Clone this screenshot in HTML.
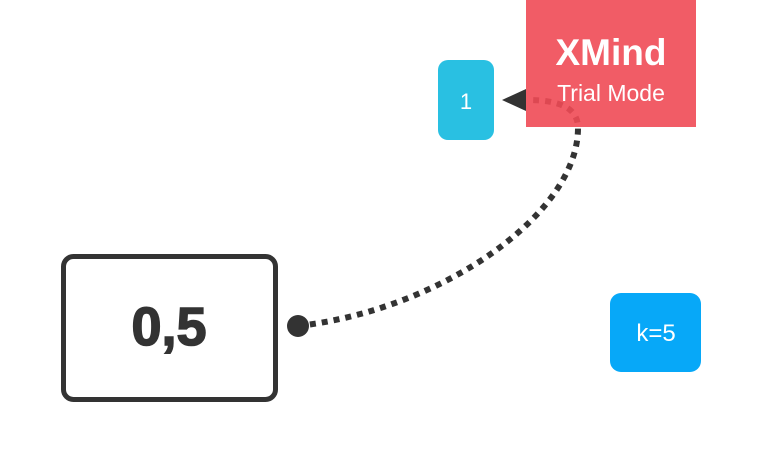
<!DOCTYPE html>
<html><head><style>
body{margin:0;background:#fff;width:761px;height:459px;overflow:hidden}
</style></head><body>
<svg width="761" height="459" viewBox="0 0 761 459" xmlns="http://www.w3.org/2000/svg" style="position:absolute;left:0;top:0">
<rect x="63.5" y="256.5" width="212" height="143" rx="10" fill="#fff" stroke="#333" stroke-width="5"/>
<text x="169" y="345" text-anchor="middle" font-family="Liberation Sans, sans-serif" font-weight="bold" font-size="54" fill="#333" stroke="#333" stroke-width="1.5">0,5</text>
<rect x="438" y="60" width="56" height="80" rx="10" fill="#29c0e2"/>
<text x="466" y="109" text-anchor="middle" font-family="Liberation Sans, sans-serif" font-size="22" fill="#fff">1</text>
<rect x="610" y="293" width="91" height="79" rx="11" fill="#07a8f8"/>
<text x="656" y="341" text-anchor="middle" font-family="Liberation Sans, sans-serif" font-size="24" fill="#fff">k=5</text>
<path d="M298,326 C440,310 578,215 578,128 C578,108 560,100 527,100" fill="none" stroke="#333" stroke-width="6" stroke-dasharray="6,6"/>
<circle cx="298" cy="326" r="11" fill="#333"/>
<polygon points="502,100 526,89 526,111" fill="#333"/>
<rect x="526" y="0" width="170" height="127" fill="#ef4a55" fill-opacity="0.9"/>
<text x="611" y="65" text-anchor="middle" font-family="Liberation Sans, sans-serif" font-weight="bold" font-size="37" fill="#fff">XMind</text>
<text x="611" y="101" text-anchor="middle" font-family="Liberation Sans, sans-serif" font-size="23" fill="#fff">Trial Mode</text>
</svg>
</body></html>
